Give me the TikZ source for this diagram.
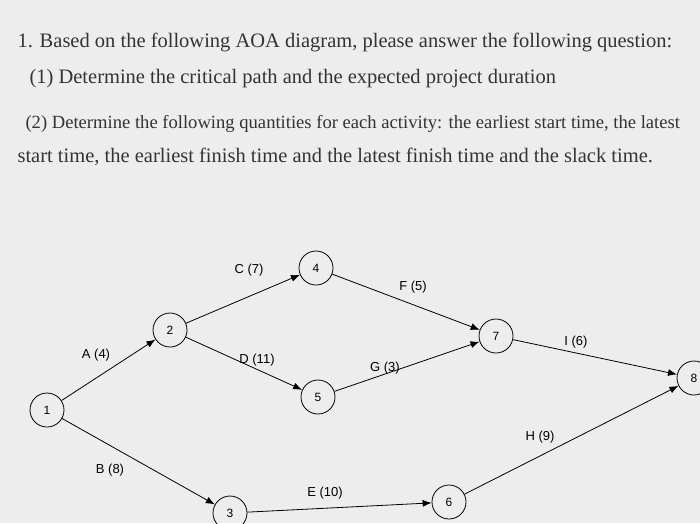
\documentclass[tikz,border=0pt]{standalone}
\usepackage{fontspec}
\setmainfont{Liberation Serif}
\newfontfamily\lab{Liberation Sans}
\usetikzlibrary{arrows.meta}
\begin{document}
\begin{tikzpicture}[x=1pt,y=-1pt,
  ev/.style={circle,draw,thick,minimum size=34pt,inner sep=0pt,font=\lab\fontsize{12}{14}\selectfont},
  act/.style={thick,-{Latex[length=9pt,width=7pt]}},
  lbl/.style={font=\lab\fontsize{13}{15}\selectfont},
  hdr/.style={anchor=west,font=\fontsize{20.5}{24}\selectfont,text=black!80}]
\useasboundingbox (0,0) rectangle (700,523);
\clip (0,0) rectangle (700,523);
\fill[black!7] (0,0) rectangle (700,523);
\node[hdr] (t1) at (14,42) {1. Based on the following AOA diagram, please answer the following question:};
\node[hdr] (t2) at (26,79) {(1) Determine the critical path and the expected project duration};
\node[hdr,font=\fontsize{18.6}{22}\selectfont] (t3) at (22,124) {(2) Determine the following quantities for each activity: the earliest start time, the latest};
\node[hdr] (t4) at (14,157) {start time, the earliest finish time and the latest finish time and the slack time.};
\node[ev] (n1) at (47,410) {1};
\node[ev] (n2) at (170,330) {2};
\node[ev] (n4) at (316,268) {4};
\node[ev] (n5) at (318,397) {5};
\node[ev] (n7) at (496,336) {7};
\node[ev] (n8) at (694,378) {8};
\node[ev] (n3) at (230,513) {3};
\node[ev] (n6) at (449,502) {6};
\draw[act] (n1) -- (n2);
\draw[act] (n1) -- (n3);
\draw[act] (n2) -- (n4);
\draw[act] (n2) -- (n5);
\draw[act] (n4) -- (n7);
\draw[act] (n5) -- (n7);
\draw[act] (n7) -- (n8);
\draw[act] (n3) -- (n6);
\draw[act] (n6) -- (n8);
\node[lbl] (la) at (96,355) {A (4)};
\node[lbl] (lb) at (110,470) {B (8)};
\node[lbl] (lc) at (249,270) {C (7)};
\node[lbl] (ld) at (257,360) {D (11)};
\node[lbl] (le) at (325,493) {E (10)};
\node[lbl] (lf) at (413,287) {F (5)};
\node[lbl] (lg) at (385,368) {G (3)};
\node[lbl] (lh) at (540,437) {H (9)};
\node[lbl] (li) at (576,342) {I (6)};
\end{tikzpicture}
\end{document}
